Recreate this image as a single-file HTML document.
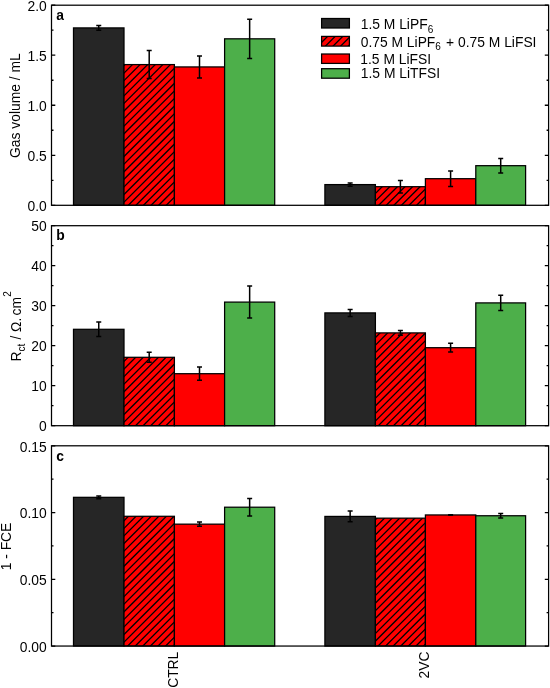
<!DOCTYPE html>
<html><head><meta charset="utf-8"><title>Figure</title>
<style>html,body{margin:0;padding:0;background:#fff}svg{display:block}text{font-family:"Liberation Sans",Arial,sans-serif;fill:#000}</style>
</head><body>
<svg width="550" height="688" viewBox="0 0 550 688">
<rect width="550" height="688" fill="#fff"/>
<rect x="73.50" y="27.91" width="50.50" height="177.39" fill="#262626"/>
<rect x="73.50" y="27.91" width="50.50" height="177.39" fill="none" stroke="#000" stroke-width="1.25"/>
<rect x="124.00" y="64.58" width="50.40" height="140.72" fill="#ff0000"/>
<clipPath id="c1"><rect x="124.00" y="64.58" width="50.40" height="140.72"/></clipPath>
<path clip-path="url(#c1)" d="M-24.40,206.30L118.32,63.58M-16.81,206.30L125.91,63.58M-9.23,206.30L133.50,63.58M-1.64,206.30L141.08,63.58M5.95,206.30L148.67,63.58M13.54,206.30L156.26,63.58M21.12,206.30L163.84,63.58M28.71,206.30L171.43,63.58M36.30,206.30L179.02,63.58M43.88,206.30L186.60,63.58M51.47,206.30L194.19,63.58M59.06,206.30L201.78,63.58M66.64,206.30L209.37,63.58M74.23,206.30L216.95,63.58M81.82,206.30L224.54,63.58M89.41,206.30L232.13,63.58M96.99,206.30L239.71,63.58M104.58,206.30L247.30,63.58M112.17,206.30L254.89,63.58M119.75,206.30L262.47,63.58M127.34,206.30L270.06,63.58M134.93,206.30L277.65,63.58M142.51,206.30L285.24,63.58M150.10,206.30L292.82,63.58M157.69,206.30L300.41,63.58M165.28,206.30L308.00,63.58M172.86,206.30L315.58,63.58M180.45,206.30L323.17,63.58" stroke="#000" stroke-width="1.3" fill="none"/>
<rect x="124.00" y="64.58" width="50.40" height="140.72" fill="none" stroke="#000" stroke-width="1.25"/>
<rect x="174.40" y="66.93" width="50.20" height="138.37" fill="#ff0000"/>
<rect x="174.40" y="66.93" width="50.20" height="138.37" fill="none" stroke="#000" stroke-width="1.25"/>
<rect x="224.60" y="38.82" width="50.10" height="166.48" fill="#4daf4a"/>
<rect x="224.60" y="38.82" width="50.10" height="166.48" fill="none" stroke="#000" stroke-width="1.25"/>
<rect x="324.90" y="184.59" width="50.50" height="20.71" fill="#262626"/>
<rect x="324.90" y="184.59" width="50.50" height="20.71" fill="none" stroke="#000" stroke-width="1.25"/>
<rect x="375.40" y="186.69" width="50.00" height="18.61" fill="#ff0000"/>
<clipPath id="c2"><rect x="375.40" y="186.69" width="50.00" height="18.61"/></clipPath>
<path clip-path="url(#c2)" d="M354.95,206.30L375.56,185.69M362.54,206.30L383.15,185.69M370.12,206.30L390.73,185.69M377.71,206.30L398.32,185.69M385.30,206.30L405.91,185.69M392.89,206.30L413.50,185.69M400.47,206.30L421.08,185.69M408.06,206.30L428.67,185.69M415.65,206.30L436.26,185.69M423.23,206.30L443.84,185.69M430.82,206.30L451.43,185.69" stroke="#000" stroke-width="1.3" fill="none"/>
<rect x="375.40" y="186.69" width="50.00" height="18.61" fill="none" stroke="#000" stroke-width="1.25"/>
<rect x="425.40" y="178.69" width="50.40" height="26.61" fill="#ff0000"/>
<rect x="425.40" y="178.69" width="50.40" height="26.61" fill="none" stroke="#000" stroke-width="1.25"/>
<rect x="475.80" y="165.68" width="49.80" height="39.62" fill="#4daf4a"/>
<rect x="475.80" y="165.68" width="49.80" height="39.62" fill="none" stroke="#000" stroke-width="1.25"/>
<path d="M98.75,25.51V30.31M96.25,25.51H101.25M96.25,30.31H101.25" stroke="#000" stroke-width="1.5" fill="none"/>
<path d="M149.20,50.57V78.59M146.70,50.57H151.70M146.70,78.59H151.70" stroke="#000" stroke-width="1.5" fill="none"/>
<path d="M199.50,55.93V77.94M197.00,55.93H202.00M197.00,77.94H202.00" stroke="#000" stroke-width="1.5" fill="none"/>
<path d="M249.65,19.21V58.43M247.15,19.21H252.15M247.15,58.43H252.15" stroke="#000" stroke-width="1.5" fill="none"/>
<path d="M350.15,182.99V186.19M347.65,182.99H352.65M347.65,186.19H352.65" stroke="#000" stroke-width="1.5" fill="none"/>
<path d="M400.40,180.39V192.99M397.90,180.39H402.90M397.90,192.99H402.90" stroke="#000" stroke-width="1.5" fill="none"/>
<path d="M450.60,170.98V186.39M448.10,170.98H453.10M448.10,186.39H453.10" stroke="#000" stroke-width="1.5" fill="none"/>
<path d="M500.70,158.48V172.88M498.20,158.48H503.20M498.20,172.88H503.20" stroke="#000" stroke-width="1.5" fill="none"/>
<rect x="51.5" y="5.2" width="497.10" height="200.10" fill="none" stroke="#000" stroke-width="1.25"/>
<path d="M51.5,205.30h3.8M548.6,205.30h-3.8M51.5,155.28h3.8M548.6,155.28h-3.8M51.5,105.25h3.8M548.6,105.25h-3.8M51.5,55.22h3.8M548.6,55.22h-3.8M51.5,5.20h3.8M548.6,5.20h-3.8M51.5,180.29h2M548.6,180.29h-2M51.5,130.26h2M548.6,130.26h-2M51.5,80.24h2M548.6,80.24h-2M51.5,30.21h2M548.6,30.21h-2" stroke="#000" stroke-width="1.3" fill="none"/>
<text x="46.7" y="211.05" font-size="13.85" text-anchor="end">0.0</text>
<text x="46.7" y="161.03" font-size="13.85" text-anchor="end">0.5</text>
<text x="46.7" y="111.00" font-size="13.85" text-anchor="end">1.0</text>
<text x="46.7" y="60.97" font-size="13.85" text-anchor="end">1.5</text>
<text x="46.7" y="10.95" font-size="13.85" text-anchor="end">2.0</text>
<rect x="73.50" y="329.30" width="50.50" height="96.40" fill="#262626"/>
<rect x="73.50" y="329.30" width="50.50" height="96.40" fill="none" stroke="#000" stroke-width="1.25"/>
<rect x="124.00" y="357.30" width="50.40" height="68.40" fill="#ff0000"/>
<clipPath id="c3"><rect x="124.00" y="357.30" width="50.40" height="68.40"/></clipPath>
<path clip-path="url(#c3)" d="M51.09,426.70L121.49,356.30M58.68,426.70L129.08,356.30M66.27,426.70L136.67,356.30M73.85,426.70L144.25,356.30M81.44,426.70L151.84,356.30M89.03,426.70L159.43,356.30M96.62,426.70L167.02,356.30M104.20,426.70L174.60,356.30M111.79,426.70L182.19,356.30M119.38,426.70L189.78,356.30M126.96,426.70L197.36,356.30M134.55,426.70L204.95,356.30M142.14,426.70L212.54,356.30M149.72,426.70L220.12,356.30M157.31,426.70L227.71,356.30M164.90,426.70L235.30,356.30M172.49,426.70L242.89,356.30M180.07,426.70L250.47,356.30" stroke="#000" stroke-width="1.3" fill="none"/>
<rect x="124.00" y="357.30" width="50.40" height="68.40" fill="none" stroke="#000" stroke-width="1.25"/>
<rect x="174.40" y="373.70" width="50.20" height="52.00" fill="#ff0000"/>
<rect x="174.40" y="373.70" width="50.20" height="52.00" fill="none" stroke="#000" stroke-width="1.25"/>
<rect x="224.60" y="302.10" width="50.10" height="123.60" fill="#4daf4a"/>
<rect x="224.60" y="302.10" width="50.10" height="123.60" fill="none" stroke="#000" stroke-width="1.25"/>
<rect x="324.90" y="312.90" width="50.50" height="112.80" fill="#262626"/>
<rect x="324.90" y="312.90" width="50.50" height="112.80" fill="none" stroke="#000" stroke-width="1.25"/>
<rect x="375.40" y="332.90" width="50.00" height="92.80" fill="#ff0000"/>
<clipPath id="c4"><rect x="375.40" y="332.90" width="50.00" height="92.80"/></clipPath>
<path clip-path="url(#c4)" d="M278.70,426.70L373.50,331.90M286.29,426.70L381.09,331.90M293.88,426.70L388.68,331.90M301.46,426.70L396.26,331.90M309.05,426.70L403.85,331.90M316.64,426.70L411.44,331.90M324.23,426.70L419.03,331.90M331.81,426.70L426.61,331.90M339.40,426.70L434.20,331.90M346.99,426.70L441.79,331.90M354.57,426.70L449.37,331.90M362.16,426.70L456.96,331.90M369.75,426.70L464.55,331.90M377.33,426.70L472.13,331.90M384.92,426.70L479.72,331.90M392.51,426.70L487.31,331.90M400.10,426.70L494.90,331.90M407.68,426.70L502.48,331.90M415.27,426.70L510.07,331.90M422.86,426.70L517.66,331.90M430.44,426.70L525.24,331.90" stroke="#000" stroke-width="1.3" fill="none"/>
<rect x="375.40" y="332.90" width="50.00" height="92.80" fill="none" stroke="#000" stroke-width="1.25"/>
<rect x="425.40" y="347.70" width="50.40" height="78.00" fill="#ff0000"/>
<rect x="425.40" y="347.70" width="50.40" height="78.00" fill="none" stroke="#000" stroke-width="1.25"/>
<rect x="475.80" y="302.90" width="49.80" height="122.80" fill="#4daf4a"/>
<rect x="475.80" y="302.90" width="49.80" height="122.80" fill="none" stroke="#000" stroke-width="1.25"/>
<path d="M98.75,322.10V336.50M96.25,322.10H101.25M96.25,336.50H101.25" stroke="#000" stroke-width="1.5" fill="none"/>
<path d="M149.20,352.30V362.30M146.70,352.30H151.70M146.70,362.30H151.70" stroke="#000" stroke-width="1.5" fill="none"/>
<path d="M199.50,367.10V380.30M197.00,367.10H202.00M197.00,380.30H202.00" stroke="#000" stroke-width="1.5" fill="none"/>
<path d="M249.65,286.10V318.10M247.15,286.10H252.15M247.15,318.10H252.15" stroke="#000" stroke-width="1.5" fill="none"/>
<path d="M350.15,309.42V316.38M347.65,309.42H352.65M347.65,316.38H352.65" stroke="#000" stroke-width="1.5" fill="none"/>
<path d="M400.40,330.62V335.18M397.90,330.62H402.90M397.90,335.18H402.90" stroke="#000" stroke-width="1.5" fill="none"/>
<path d="M450.60,343.30V352.10M448.10,343.30H453.10M448.10,352.10H453.10" stroke="#000" stroke-width="1.5" fill="none"/>
<path d="M500.70,295.30V310.50M498.20,295.30H503.20M498.20,310.50H503.20" stroke="#000" stroke-width="1.5" fill="none"/>
<rect x="51.5" y="225.7" width="497.10" height="200.00" fill="none" stroke="#000" stroke-width="1.25"/>
<path d="M51.5,425.70h3.8M548.6,425.70h-3.8M51.5,385.70h3.8M548.6,385.70h-3.8M51.5,345.70h3.8M548.6,345.70h-3.8M51.5,305.70h3.8M548.6,305.70h-3.8M51.5,265.70h3.8M548.6,265.70h-3.8M51.5,225.70h3.8M548.6,225.70h-3.8M51.5,405.70h2M548.6,405.70h-2M51.5,365.70h2M548.6,365.70h-2M51.5,325.70h2M548.6,325.70h-2M51.5,285.70h2M548.6,285.70h-2M51.5,245.70h2M548.6,245.70h-2" stroke="#000" stroke-width="1.3" fill="none"/>
<text x="46.7" y="431.45" font-size="13.85" text-anchor="end">0</text>
<text x="46.7" y="391.45" font-size="13.85" text-anchor="end">10</text>
<text x="46.7" y="351.45" font-size="13.85" text-anchor="end">20</text>
<text x="46.7" y="311.45" font-size="13.85" text-anchor="end">30</text>
<text x="46.7" y="271.45" font-size="13.85" text-anchor="end">40</text>
<text x="46.7" y="231.45" font-size="13.85" text-anchor="end">50</text>
<rect x="73.50" y="497.33" width="50.50" height="148.72" fill="#262626"/>
<rect x="73.50" y="497.33" width="50.50" height="148.72" fill="none" stroke="#000" stroke-width="1.25"/>
<rect x="124.00" y="516.29" width="50.40" height="129.76" fill="#ff0000"/>
<clipPath id="c5"><rect x="124.00" y="516.29" width="50.40" height="129.76"/></clipPath>
<path clip-path="url(#c5)" d="M-9.93,647.05L121.83,515.29M-2.34,647.05L129.42,515.29M5.25,647.05L137.01,515.29M12.83,647.05L144.59,515.29M20.42,647.05L152.18,515.29M28.01,647.05L159.77,515.29M35.59,647.05L167.35,515.29M43.18,647.05L174.94,515.29M50.77,647.05L182.53,515.29M58.35,647.05L190.12,515.29M65.94,647.05L197.70,515.29M73.53,647.05L205.29,515.29M81.12,647.05L212.88,515.29M88.70,647.05L220.46,515.29M96.29,647.05L228.05,515.29M103.88,647.05L235.64,515.29M111.46,647.05L243.22,515.29M119.05,647.05L250.81,515.29M126.64,647.05L258.40,515.29M134.22,647.05L265.99,515.29M141.81,647.05L273.57,515.29M149.40,647.05L281.16,515.29M156.99,647.05L288.75,515.29M164.57,647.05L296.33,515.29M172.16,647.05L303.92,515.29M179.75,647.05L311.51,515.29" stroke="#000" stroke-width="1.3" fill="none"/>
<rect x="124.00" y="516.29" width="50.40" height="129.76" fill="none" stroke="#000" stroke-width="1.25"/>
<rect x="174.40" y="524.16" width="50.20" height="121.89" fill="#ff0000"/>
<rect x="174.40" y="524.16" width="50.20" height="121.89" fill="none" stroke="#000" stroke-width="1.25"/>
<rect x="224.60" y="507.21" width="50.10" height="138.84" fill="#4daf4a"/>
<rect x="224.60" y="507.21" width="50.10" height="138.84" fill="none" stroke="#000" stroke-width="1.25"/>
<rect x="324.90" y="516.42" width="50.50" height="129.63" fill="#262626"/>
<rect x="324.90" y="516.42" width="50.50" height="129.63" fill="none" stroke="#000" stroke-width="1.25"/>
<rect x="375.40" y="518.16" width="50.00" height="127.89" fill="#ff0000"/>
<clipPath id="c6"><rect x="375.40" y="518.16" width="50.00" height="127.89"/></clipPath>
<path clip-path="url(#c6)" d="M240.44,647.05L370.34,517.16M248.03,647.05L377.92,517.16M255.62,647.05L385.51,517.16M263.20,647.05L393.10,517.16M270.79,647.05L400.68,517.16M278.38,647.05L408.27,517.16M285.96,647.05L415.86,517.16M293.55,647.05L423.44,517.16M301.14,647.05L431.03,517.16M308.73,647.05L438.62,517.16M316.31,647.05L446.21,517.16M323.90,647.05L453.79,517.16M331.49,647.05L461.38,517.16M339.07,647.05L468.97,517.16M346.66,647.05L476.55,517.16M354.25,647.05L484.14,517.16M361.83,647.05L491.73,517.16M369.42,647.05L499.31,517.16M377.01,647.05L506.90,517.16M384.60,647.05L514.49,517.16M392.18,647.05L522.08,517.16M399.77,647.05L529.66,517.16M407.36,647.05L537.25,517.16M414.94,647.05L544.84,517.16M422.53,647.05L552.42,517.16M430.12,647.05L560.01,517.16" stroke="#000" stroke-width="1.3" fill="none"/>
<rect x="375.40" y="518.16" width="50.00" height="127.89" fill="none" stroke="#000" stroke-width="1.25"/>
<rect x="425.40" y="514.95" width="50.40" height="131.10" fill="#ff0000"/>
<rect x="425.40" y="514.95" width="50.40" height="131.10" fill="none" stroke="#000" stroke-width="1.25"/>
<rect x="475.80" y="515.75" width="49.80" height="130.30" fill="#4daf4a"/>
<rect x="475.80" y="515.75" width="49.80" height="130.30" fill="none" stroke="#000" stroke-width="1.25"/>
<path d="M98.75,496.00V498.67M96.25,496.00H101.25M96.25,498.67H101.25" stroke="#000" stroke-width="1.5" fill="none"/>
<path d="M199.50,522.03V526.30M197.00,522.03H202.00M197.00,526.30H202.00" stroke="#000" stroke-width="1.5" fill="none"/>
<path d="M249.65,498.40V516.02M247.15,498.40H252.15M247.15,516.02H252.15" stroke="#000" stroke-width="1.5" fill="none"/>
<path d="M350.15,511.08V521.76M347.65,511.08H352.65M347.65,521.76H352.65" stroke="#000" stroke-width="1.5" fill="none"/>
<path d="M450.60,514.69V515.22M448.10,514.69H453.10M448.10,515.22H453.10" stroke="#000" stroke-width="1.5" fill="none"/>
<path d="M500.70,513.62V517.89M498.20,513.62H503.20M498.20,517.89H503.20" stroke="#000" stroke-width="1.5" fill="none"/>
<rect x="51.5" y="445.8" width="497.10" height="200.25" fill="none" stroke="#000" stroke-width="1.25"/>
<path d="M51.5,646.05h3.8M548.6,646.05h-3.8M51.5,579.30h3.8M548.6,579.30h-3.8M51.5,512.55h3.8M548.6,512.55h-3.8M51.5,445.80h3.8M548.6,445.80h-3.8M51.5,612.67h2M548.6,612.67h-2M51.5,545.92h2M548.6,545.92h-2M51.5,479.17h2M548.6,479.17h-2" stroke="#000" stroke-width="1.3" fill="none"/>
<text x="46.7" y="651.80" font-size="13.85" text-anchor="end">0.00</text>
<text x="46.7" y="585.05" font-size="13.85" text-anchor="end">0.05</text>
<text x="46.7" y="518.30" font-size="13.85" text-anchor="end">0.10</text>
<text x="46.7" y="451.55" font-size="13.85" text-anchor="end">0.15</text>
<text x="56.3" y="19.90" font-size="13.85" font-weight="bold">a</text>
<text x="56.3" y="240.40" font-size="13.85" font-weight="bold">b</text>
<text x="56.3" y="460.50" font-size="13.85" font-weight="bold">c</text>
<text transform="translate(19.5,105.6) rotate(-90)" font-size="13.85" text-anchor="middle">Gas volume / mL</text>
<text transform="translate(21.3,361.6) rotate(-90)" font-size="13.85">R<tspan font-size="10" dy="3.8">ct</tspan><tspan dy="-3.8" dx="0.4"> / Ω.</tspan><tspan dx="2.2">cm</tspan><tspan font-size="10" dy="-10.1" dx="0.3">2</tspan></text>
<text transform="translate(11.0,546.5) rotate(-90)" font-size="13.85" text-anchor="middle">1 - FCE</text>
<text transform="translate(178.2,651.7) rotate(-90)" font-size="13.85" text-anchor="end">CTRL</text>
<text transform="translate(429.2,651.6) rotate(-90)" font-size="13.85" text-anchor="end">2VC</text>
<rect x="321.6" y="18.5" width="27.8" height="9.50" fill="#262626"/>
<rect x="321.6" y="18.5" width="27.8" height="9.50" fill="none" stroke="#000" stroke-width="1.25"/>
<rect x="321.6" y="36.4" width="27.8" height="9.70" fill="#ff0000"/>
<clipPath id="c7"><rect x="321.60" y="36.40" width="27.80" height="9.70"/></clipPath>
<path clip-path="url(#c7)" d="M309.30,47.10L321.00,35.40M316.89,47.10L328.59,35.40M324.48,47.10L336.18,35.40M332.06,47.10L343.76,35.40M339.65,47.10L351.35,35.40M347.24,47.10L358.94,35.40M354.82,47.10L366.52,35.40" stroke="#000" stroke-width="1.3" fill="none"/>
<rect x="321.6" y="36.4" width="27.8" height="9.70" fill="none" stroke="#000" stroke-width="1.25"/>
<rect x="321.6" y="54.0" width="27.8" height="9.40" fill="#ff0000"/>
<rect x="321.6" y="54.0" width="27.8" height="9.40" fill="none" stroke="#000" stroke-width="1.25"/>
<rect x="321.6" y="68.7" width="27.8" height="9.50" fill="#4daf4a"/>
<rect x="321.6" y="68.7" width="27.8" height="9.50" fill="none" stroke="#000" stroke-width="1.25"/>
<text x="360.7" y="28.7" font-size="13.85">1.5 M LiPF<tspan font-size="10" dy="3.8">6</tspan></text>
<text x="360.7" y="46.6" font-size="13.85">0.75 M LiPF<tspan font-size="10" dy="3.8">6</tspan><tspan dy="-3.8" dx="1.3"> + 0.75 M LiFSI</tspan></text>
<text x="360.3" y="63.6" font-size="13.85">1.5 M LiFSI</text>
<text x="360.8" y="78.3" font-size="13.85">1.5 M LiTFSI</text>
</svg></body></html>
